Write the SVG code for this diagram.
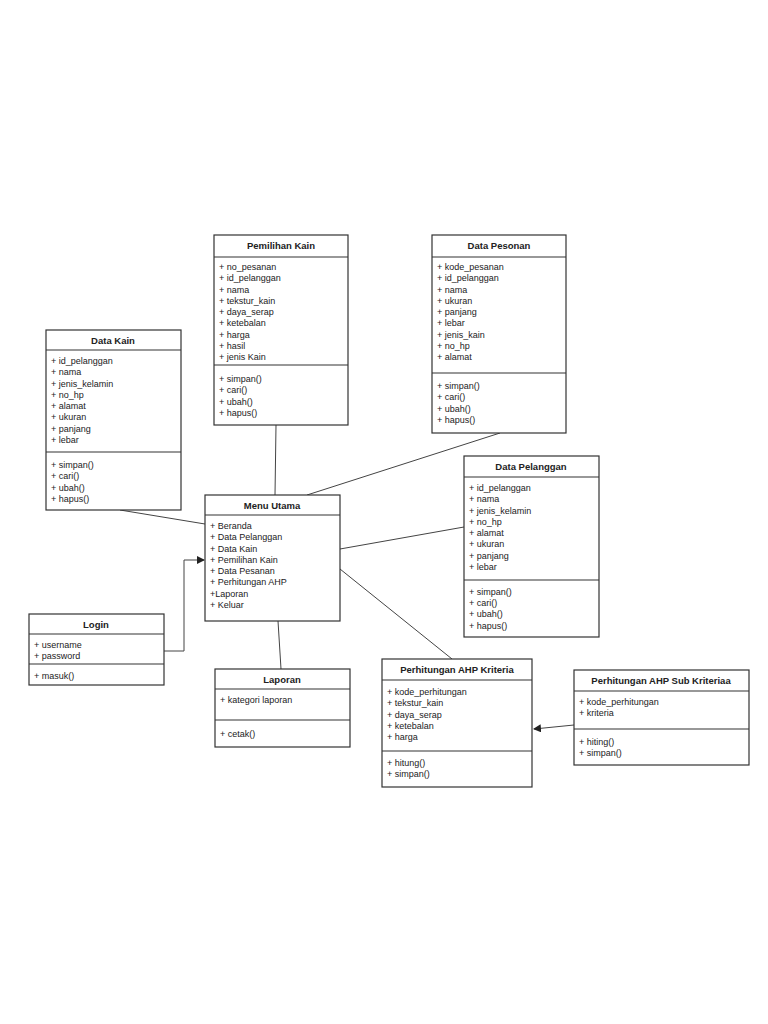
<svg xmlns="http://www.w3.org/2000/svg" width="768" height="1024" viewBox="0 0 768 1024">
<style>
.box{fill:#fff;stroke:#333;stroke-width:1.2}
.sep{stroke:#333;stroke-width:1.2}
.t{font-family:"Liberation Sans",Arial,sans-serif;font-size:9px;fill:#222}
.h{font-family:"Liberation Sans",Arial,sans-serif;font-size:9.5px;font-weight:bold;fill:#222;text-anchor:middle}
.c{stroke:#444;stroke-width:1;fill:none}
</style>
<defs><marker id="a" markerWidth="8" markerHeight="8" refX="7" refY="4" orient="auto" markerUnits="userSpaceOnUse"><path d="M0,0 L8,4 L0,8 Z" fill="#222"/></marker></defs>
<rect width="768" height="1024" fill="#fff"/>
<g id="connectors">
<line class="c" x1="120" y1="510" x2="205" y2="524"/>
<line class="c" x1="276" y1="425" x2="275" y2="495"/>
<line class="c" x1="500" y1="433" x2="307" y2="495"/>
<line class="c" x1="464" y1="527" x2="340" y2="549"/>
<line class="c" x1="340" y1="569" x2="452" y2="659"/>
<line class="c" x1="278" y1="621" x2="281" y2="669"/>
<polyline class="c" points="164,651 184,651 184,560 204,560" marker-end="url(#a)"/>
<line class="c" x1="574" y1="725" x2="534" y2="729" marker-end="url(#a)"/>
</g>
<g id="pemilihan-kain"><rect class="box" x="214" y="235" width="134" height="190"/><line class="sep" x1="214" y1="257" x2="348" y2="257"/><line class="sep" x1="214" y1="365" x2="348" y2="365"/>
<text class="h" x="281" y="249">Pemilihan Kain</text>
<text class="t" x="219" y="270">+ no_pesanan</text><text class="t" x="219" y="281">+ id_pelanggan</text><text class="t" x="219" y="293">+ nama</text><text class="t" x="219" y="304">+ tekstur_kain</text><text class="t" x="219" y="315">+ daya_serap</text><text class="t" x="219" y="326">+ ketebalan</text><text class="t" x="219" y="338">+ harga</text><text class="t" x="219" y="349">+ hasil</text><text class="t" x="219" y="360">+ jenis Kain</text>
<text class="t" x="219" y="382">+ simpan()</text><text class="t" x="219" y="393">+ cari()</text><text class="t" x="219" y="405">+ ubah()</text><text class="t" x="219" y="416">+ hapus()</text></g>
<g id="data-pesonan"><rect class="box" x="432" y="235" width="134" height="198"/><line class="sep" x1="432" y1="257" x2="566" y2="257"/><line class="sep" x1="432" y1="373" x2="566" y2="373"/>
<text class="h" x="499" y="249">Data Pesonan</text>
<text class="t" x="437" y="270">+ kode_pesanan</text><text class="t" x="437" y="281">+  id_pelanggan</text><text class="t" x="437" y="293">+ nama</text><text class="t" x="437" y="304">+ ukuran</text><text class="t" x="437" y="315">+ panjang</text><text class="t" x="437" y="326">+ lebar</text><text class="t" x="437" y="338">+ jenis_kain</text><text class="t" x="437" y="349">+ no_hp</text><text class="t" x="437" y="360">+ alamat</text>
<text class="t" x="437" y="389">+ simpan()</text><text class="t" x="437" y="400">+ cari()</text><text class="t" x="437" y="412">+ ubah()</text><text class="t" x="437" y="423">+ hapus()</text></g>
<g id="data-kain"><rect class="box" x="46" y="330" width="135" height="180"/><line class="sep" x1="46" y1="350" x2="181" y2="350"/><line class="sep" x1="46" y1="452" x2="181" y2="452"/>
<text class="h" x="113" y="344">Data Kain</text>
<text class="t" x="51" y="364">+ id_pelanggan</text><text class="t" x="51" y="375">+ nama</text><text class="t" x="51" y="387">+ jenis_kelamin</text><text class="t" x="51" y="398">+ no_hp</text><text class="t" x="51" y="409">+ alamat</text><text class="t" x="51" y="420">+ ukuran</text><text class="t" x="51" y="432">+ panjang</text><text class="t" x="51" y="443">+ lebar</text>
<text class="t" x="51" y="468">+ simpan()</text><text class="t" x="51" y="479">+ cari()</text><text class="t" x="51" y="491">+ ubah()</text><text class="t" x="51" y="502">+ hapus()</text></g>
<g id="menu-utama"><rect class="box" x="205" y="495" width="135" height="126"/><line class="sep" x1="205" y1="515" x2="340" y2="515"/>
<text class="h" x="272" y="509">Menu Utama</text>
<text class="t" x="210" y="529">+ Beranda</text><text class="t" x="210" y="540">+ Data Pelanggan</text><text class="t" x="210" y="552">+ Data Kain</text><text class="t" x="210" y="563">+ Pemilihan Kain</text><text class="t" x="210" y="574">+ Data Pesanan</text><text class="t" x="210" y="585">+ Perhitungan AHP</text><text class="t" x="210" y="597">+Laporan</text><text class="t" x="210" y="608">+ Keluar</text></g>
<g id="data-pelanggan"><rect class="box" x="464" y="456" width="135" height="181"/><line class="sep" x1="464" y1="477" x2="599" y2="477"/><line class="sep" x1="464" y1="580" x2="599" y2="580"/>
<text class="h" x="531" y="470">Data Pelanggan</text>
<text class="t" x="469" y="491">+ id_pelanggan</text><text class="t" x="469" y="502">+ nama</text><text class="t" x="469" y="514">+ jenis_kelamin</text><text class="t" x="469" y="525">+ no_hp</text><text class="t" x="469" y="536">+ alamat</text><text class="t" x="469" y="547">+ ukuran</text><text class="t" x="469" y="559">+ panjang</text><text class="t" x="469" y="570">+ lebar</text>
<text class="t" x="469" y="595">+ simpan()</text><text class="t" x="469" y="606">+ cari()</text><text class="t" x="469" y="617">+ ubah()</text><text class="t" x="469" y="629">+ hapus()</text></g>
<g id="login"><rect class="box" x="29" y="614" width="135" height="71"/><line class="sep" x1="29" y1="634" x2="164" y2="634"/><line class="sep" x1="29" y1="664" x2="164" y2="664"/>
<text class="h" x="96" y="628">Login</text>
<text class="t" x="34" y="648">+ username</text><text class="t" x="34" y="659">+ password</text><text class="t" x="34" y="679">+ masuk()</text></g>
<g id="laporan"><rect class="box" x="215" y="669" width="135" height="78"/><line class="sep" x1="215" y1="689" x2="350" y2="689"/><line class="sep" x1="215" y1="720" x2="350" y2="720"/>
<text class="h" x="282" y="683">Laporan</text>
<text class="t" x="220" y="703">+ kategori laporan</text><text class="t" x="220" y="737">+ cetak()</text></g>
<g id="ahp-kriteria"><rect class="box" x="382" y="659" width="150" height="128"/><line class="sep" x1="382" y1="680" x2="532" y2="680"/><line class="sep" x1="382" y1="751" x2="532" y2="751"/>
<text class="h" x="457" y="673">Perhitungan AHP Kriteria</text>
<text class="t" x="387" y="695">+ kode_perhitungan</text><text class="t" x="387" y="706">+ tekstur_kain</text><text class="t" x="387" y="718">+ daya_serap</text><text class="t" x="387" y="729">+ ketebalan</text><text class="t" x="387" y="740">+ harga</text>
<text class="t" x="387" y="766">+ hitung()</text><text class="t" x="387" y="777">+ simpan()</text></g>
<g id="ahp-sub-kriteria"><rect class="box" x="574" y="670" width="175" height="95"/><line class="sep" x1="574" y1="691" x2="749" y2="691"/><line class="sep" x1="574" y1="729" x2="749" y2="729"/>
<text class="h" x="661" y="684">Perhitungan AHP Sub Kriteriaa</text>
<text class="t" x="579" y="705">+ kode_perhitungan</text><text class="t" x="579" y="716">+ kriteria</text>
<text class="t" x="579" y="745">+ hiting()</text><text class="t" x="579" y="756">+ simpan()</text></g>
</svg>
